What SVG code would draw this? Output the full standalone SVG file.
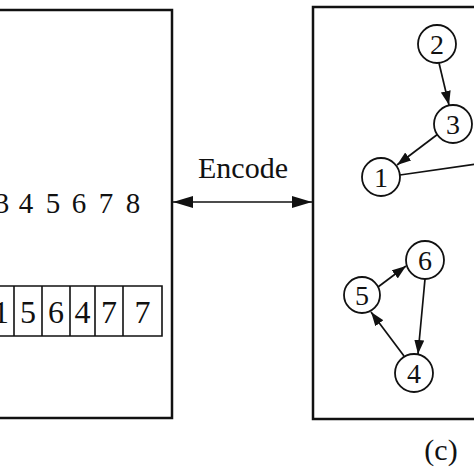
<svg xmlns="http://www.w3.org/2000/svg" width="474" height="474" viewBox="0 0 474 474">
<style>
.t{font-family:"Liberation Serif","Times New Roman",serif;fill:#111;text-anchor:middle}
.box{fill:#fff;stroke:#111;stroke-width:2.5}
.cell{fill:none;stroke:#111;stroke-width:1.6}
.nc{fill:#fff;stroke:#111;stroke-width:1.8}
.e{stroke:#111;stroke-width:1.7;fill:none}
</style>
<defs>
<marker id="ah" viewBox="0 0 14 10" refX="14" refY="5" markerWidth="14" markerHeight="10" markerUnits="userSpaceOnUse" orient="auto">
<path d="M0,0 L14,5 L0,10 Z" fill="#111"/>
</marker>
<marker id="big" viewBox="0 0 20 12" refX="20" refY="6" markerWidth="20" markerHeight="12" markerUnits="userSpaceOnUse" orient="auto-start-reverse">
<path d="M0,0 L20,6 L0,12 Z" fill="#111"/>
</marker>
</defs>
<rect width="474" height="474" fill="#fff"/>
<g id="left-panel">
<rect class="box" x="-10" y="10" width="182" height="408"/>
<g class="t" font-size="29">
<text x="2" y="213">3</text>
<text x="26" y="213">4</text>
<text x="53" y="213">5</text>
<text x="79" y="213">6</text>
<text x="106" y="213">7</text>
<text x="133" y="213">8</text>
</g>
<path class="cell" d="M-5,286 H162 V336 H-5 M14,286 V336 M42,286 V336 M70,286 V336 M95,286 V336 M123,286 V336"/>
<g class="t" font-size="32">
<text x="1" y="323">1</text>
<text x="28" y="323">5</text>
<text x="56" y="323">6</text>
<text x="82.5" y="323">4</text>
<text x="109" y="323">7</text>
<text x="142.5" y="323">7</text>
</g>
</g>
<g id="encode">
<text class="t" x="243" y="178" font-size="30">Encode</text>
</g>
<g id="right-panel">
<rect class="box" x="313" y="7" width="180" height="412"/>
</g>
<g id="connectors">
<line class="e" x1="173" y1="202" x2="312" y2="202" marker-start="url(#big)" marker-end="url(#big)" stroke-width="2"/>
<line class="e" x1="439" y1="63" x2="449" y2="105" marker-end="url(#ah)"/>
<line class="e" x1="438" y1="134" x2="397" y2="165" marker-end="url(#ah)"/>
<line class="e" x1="400" y1="175" x2="476" y2="164"/>
<line class="e" x1="378" y1="287" x2="406" y2="266" marker-end="url(#ah)"/>
<line class="e" x1="425" y1="279" x2="418" y2="354" marker-end="url(#ah)"/>
<line class="e" x1="404" y1="356" x2="371" y2="312" marker-end="url(#ah)"/>
</g>
<g id="node2"><circle class="nc" cx="437" cy="44" r="19"/><text class="t" x="437" y="53.5" font-size="28">2</text></g>
<g id="node3"><circle class="nc" cx="453" cy="124" r="19"/><text class="t" x="453" y="133.5" font-size="28">3</text></g>
<g id="node1"><circle class="nc" cx="381" cy="177" r="19"/><text class="t" x="381" y="186.5" font-size="28">1</text></g>
<g id="node6"><circle class="nc" cx="425" cy="260" r="19"/><text class="t" x="425" y="269.5" font-size="28">6</text></g>
<g id="node5"><circle class="nc" cx="362" cy="295" r="18"/><text class="t" x="362" y="304.5" font-size="28">5</text></g>
<g id="node4"><circle class="nc" cx="414" cy="373" r="19"/><text class="t" x="414" y="382.5" font-size="28">4</text></g>
<text class="t" x="441" y="460" font-size="30">(c)</text>
</svg>
